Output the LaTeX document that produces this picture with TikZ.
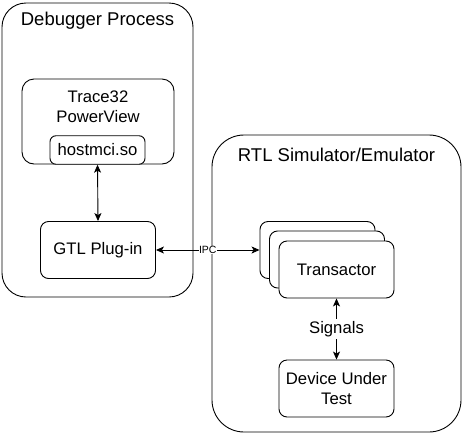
\documentclass[tikz,border=0pt]{standalone}
\usepackage{fontspec}
\setmainfont{Liberation Sans}
\usetikzlibrary{arrows.meta}
\tikzset{
  box/.style={draw,fill=white,rounded corners=#1,inner sep=0pt,align=center},
  heading/.style={font=\fontsize{18.5}{22}\selectfont},
  small/.style={font=\fontsize{10.5}{12}\selectfont},
}

\begin{document}
\begin{tikzpicture}[x=1pt,y=-1pt,line width=0.9pt,>={Stealth[length=8pt,width=7pt,inset=2pt]},font=\fontsize{16.7}{20}\selectfont]

    \useasboundingbox (0,0) rectangle (474,445);

    \node[box=24pt,minimum width=191pt,minimum height=294pt] (DP) at (97.5,150) {};
    \node[heading] (DPT) at (97.5,21) {Debugger Process};

    \node[box=12pt,minimum width=152pt,minimum height=85pt] (TP) at (98,121.5) {};
    \node[align=center] (TPT) at (98,106.5) {Trace32\\PowerView};

    \node[box=6pt,minimum width=95pt,minimum height=28.5pt] (HM) at (97.5,150) {hostmci.so};

    \node[box=8pt,minimum width=115pt,minimum height=57pt] (GP) at (98,250) {GTL Plug-in};
    \draw[<->] (HM.south) to (GP.north);

    \node[box=32pt,minimum width=249pt,minimum height=297pt] (RS) at (336.5,283.5) {};
    \node[heading] (RST) at (336.5,155) {RTL Simulator/Emulator};

    \node[box=8pt,minimum width=115pt,minimum height=57pt] (T1) at (317.5,250) {};
    \node[box=8pt,minimum width=115pt,minimum height=57pt] (T2) at (327,259.5) {};
    \node[box=8pt,minimum width=115pt,minimum height=57pt] (T3) at (336.5,269.5) {Transactor};
    \draw[<->] (GP) to node[small,fill=white,inner sep=0.5pt] (IPC) {IPC} (T1);

    \node[box=8pt,minimum width=115pt,minimum height=57pt] (DU) at (336.5,388.5) {Device Under\\Test};
    \draw[<->] (T3) to node[fill=white,inner sep=2pt] (SG) {Signals} (DU);

\end{tikzpicture}
\end{document}
